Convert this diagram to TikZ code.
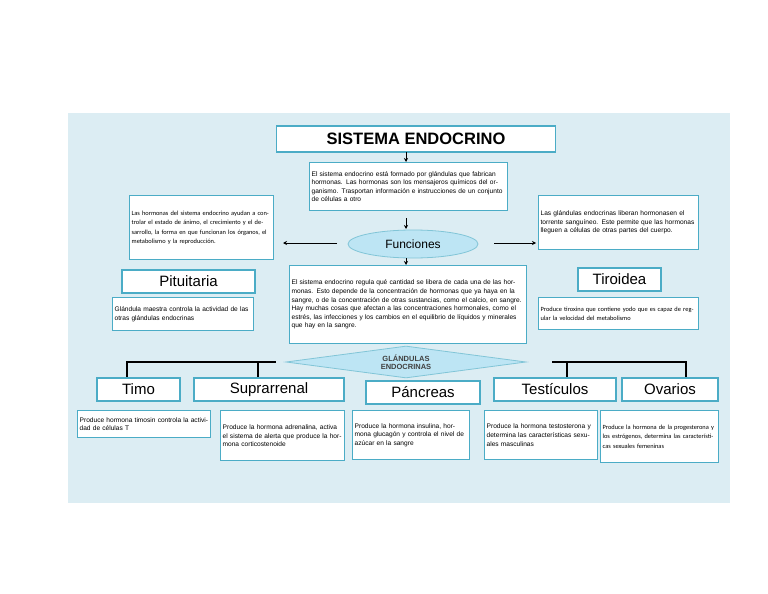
\documentclass[tikz,border=0pt]{standalone}
\usepackage{fontspec}
\setmainfont{Liberation Sans}
\newfontfamily\calfont{Carlito}
\usetikzlibrary{shapes.geometric,arrows.meta}
\definecolor{bg}{HTML}{DCEDF3}
\definecolor{bd}{HTML}{4BACC6}
\definecolor{ellf}{HTML}{BDE5F4}
\begin{document}
\begin{tikzpicture}[x=1pt,y=-1pt,
  tbox/.style={draw=bd,line width=1.3pt,fill=white,inner sep=2pt,align=left,anchor=north west,font=\fontsize{6.6}{8.6}\selectfont},
  hbox/.style={draw=bd,line width=1.3pt,fill=white,inner sep=0pt,font=\fontsize{15}{16}\selectfont},
  arr/.style={-{Stealth[length=4pt,width=4pt]},line width=0.9pt},
  br/.style={line width=1.6pt}]
\useasboundingbox (0,0) rectangle (768,594);
\fill[bg] (68,113) rectangle (730,503);
% title
\node[hbox,minimum width=279,minimum height=26,font=\bfseries\fontsize{16.5}{18}\selectfont] (title) at (416,139) {SISTEMA ENDOCRINO};
\node[tbox,text width=194,minimum height=48] (def) at (309,162) {El sistema endocrino está formado por glándulas que fabrican hormonas. Las hormonas son los mensajeros químicos del organismo. Trasportan información e instrucciones de un conjunto de células a otro};
\node[ellipse,draw=bd!70,fill=ellf,line width=0.8pt,minimum width=130,minimum height=28,font=\fontsize{12}{13}\selectfont] (fun) at (413,244) {Funciones};
\node[tbox,text width=140,minimum height=64,font=\calfont\fontsize{6.4}{9.4}\selectfont] (left) at (129,195) {Las hormonas del sistema endocrino ayudan a controlar el estado de ánimo, el crecimiento y el desarrollo, la forma en que funcionan los órganos, el metabolismo y la reproducción.};
\node[tbox,text width=156,minimum height=54] (right) at (538,195) {Las glándulas endocrinas liberan hormonasen el torrente sanguíneo. Este permite que las hormonas lleguen a células de otras partes del cuerpo.};
\node[tbox,text width=233,minimum height=78] (cen) at (289,265) {El sistema endocrino regula qué cantidad se libera de cada una de las hormonas. Esto depende de la concentración de hormonas que ya haya en la sangre, o de la concentración de otras sustancias, como el calcio, en sangre. Hay muchas cosas que afectan a las concentraciones hormonales, como el estrés, las infecciones y los cambios en el equilibrio de líquidos y minerales que hay en la sangre.};
\node[hbox,minimum width=133,minimum height=23] (pit) at (188.5,281.5) {Pituitaria};
\node[tbox,text width=137,minimum height=33] (pitd) at (112,297) {Glándula maestra controla la actividad de las otras glándulas endocrinas};
\node[hbox,minimum width=83,minimum height=23] (tir) at (619.5,279.5) {Tiroidea};
\node[tbox,text width=156,minimum height=32,font=\calfont\fontsize{6.4}{9.4}\selectfont] (tird) at (538,297) {Produce tiroxina que contiene yodo que es capaz de regular la velocidad del metabolismo};
\coordinate (a1) at (406,152); \coordinate (a2) at (406,162);
\coordinate (a3) at (406,218); \coordinate (a4) at (406,229);
\coordinate (a5) at (406,258); \coordinate (a6) at (406,265);
\draw[arr] (a1) -- (a2);
\draw[arr] (a3) -- (a4);
\draw[arr] (a5) -- (a6);
\coordinate (l1) at (337,243); \coordinate (l2) at (283,243);
\coordinate (r1) at (494,243); \coordinate (r2) at (536,243);
\draw[arr] (l1) -- (l2);
\draw[arr] (r1) -- (r2);
% diamond
\node[diamond,aspect=7.5,draw=bd!70,fill=ellf,line width=0.8pt,minimum width=240,minimum height=32,inner sep=0pt,align=center,font=\bfseries\fontsize{7.5}{8.5}\selectfont,text=black!75] (gl) at (406,362) {GLÁNDULAS\\ENDOCRINAS};
\draw[br] (127,377) -- (127,362) -- (276,362);
\draw[br] (258,362) -- (258,377);
\draw[br] (552,362) -- (686,362) -- (686,378);
\draw[br] (567,362) -- (567,378);
% row
\node[hbox,minimum width=83,minimum height=23] (timo) at (138.5,389.5) {Timo};
\node[hbox,minimum width=150,minimum height=23] (sup) at (269,389.5) {Suprarrenal};
\node[hbox,minimum width=114,minimum height=23] (pan) at (423,392.5) {Páncreas};
\node[hbox,minimum width=122,minimum height=23] (tes) at (555,389.5) {Testículos};
\node[hbox,minimum width=96,minimum height=23] (ova) at (670,389.5) {Ovarios};
\node[tbox,text width=129,minimum height=27] (timod) at (77,410) {Produce hormona timosin controla la actividad de células T};
\node[tbox,text width=120,minimum height=50] (supd) at (220,410) {Produce la hormona adrenalina, activa el sistema de alerta que produce la hormona corticostenoide};
\node[tbox,text width=113,minimum height=49] (pand) at (352,410) {Produce la hormona insulina, hormona glucagón y controla el nivel de azúcar en la sangre};
\node[tbox,text width=109,minimum height=49] (tesd) at (484,410) {Produce la hormona testosterona y determina las características sexuales masculinas};
\node[tbox,text width=114,minimum height=52,font=\calfont\fontsize{6.4}{9.4}\selectfont] (ovad) at (600,410) {Produce la hormona de la progesterona y los estrógenos, determina las características sexuales femeninas};
\end{tikzpicture}
\end{document}
